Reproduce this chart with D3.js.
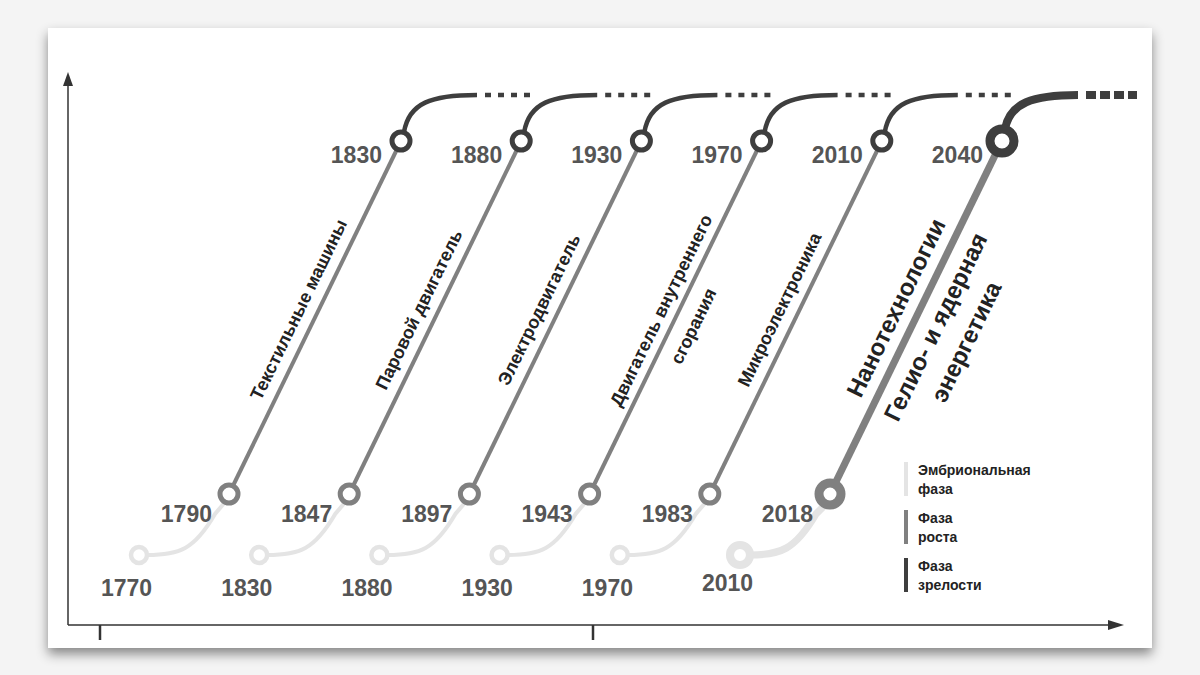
<!DOCTYPE html>
<html><head><meta charset="utf-8">
<script src="https://cdn.jsdelivr.net/npm/d3@7"></script>
<style>body{margin:0;background:#e9e9e9;font-family:"Liberation Sans",Arial,sans-serif}</style>
</head><body>
<svg id="c" width="1200" height="675"></svg>
<script>
const embYears=["1770","1830","1880","1930","1970","2010"];
const growthYears=["1790","1847","1897","1943","1983","2018"];
const matureYears=["1830","1880","1930","1970","2010","2040"];
const techLabels=[["Текстильные машины"],["Паровой двигатель"],["Электродвигатель"],["Двигатель внутреннего","сгорания"],["Микроэлектроника"],["Нанотехнологии","Гелио- и ядерная","энергетика"]];
const legendLabels=[["Эмбриональная","фаза"],["Фаза","роста"],["Фаза","зрелости"]];
const colors=["#e4e4e4","#808080","#3e3e3e"];

const svg=d3.select("#c");
const defs=svg.append("defs");
const f=defs.append("filter").attr("id","sh").attr("x","-5%").attr("y","-5%").attr("width","110%").attr("height","115%");
f.append("feDropShadow").attr("dx",0).attr("dy",6).attr("stdDeviation",6).attr("flood-color","#000").attr("flood-opacity",0.45);
svg.append("rect").attr("width",1200).attr("height",675).attr("fill","#f4f4f4");
svg.append("rect").attr("x",48).attr("y",28).attr("width",1104).attr("height",620).attr("fill","#fff").attr("filter","url(#sh)");

const ax=svg.append("g").attr("stroke","#333").attr("stroke-width",1.5);
ax.append("line").attr("x1",68).attr("y1",625).attr("x2",68).attr("y2",82);
ax.append("line").attr("x1",68).attr("y1",625).attr("x2",1112).attr("y2",625);
svg.append("path").attr("d","M68,72 L63,86 L73,86Z").attr("fill","#333");
svg.append("path").attr("d","M1124,625 L1108,620 L1108,630Z").attr("fill","#333");
[100,593].forEach(x=>ax.append("line").attr("x1",x).attr("x2",x).attr("y1",625).attr("y2",640).attr("stroke-width",2.5));

const x=d3.scaleLinear().domain([0,5]).range([139,740]);
const yE=555,yG=494,yM=141,yTop=95;
const gxOff=90, mxOff=262;
const offsets=[[-12],[-12],[-12],[-10,26],[-12],[-14,30,64]];

embYears.forEach((ey,i)=>{
  const last=i===5, w=last?1.8:1;
  const ex=x(i), gx=x(i)+gxOff, mx=x(i)+mxOff;
  const rE=last?10:8, rG=last?11:9, rM=last?12:9;
  const p=d3.path(); p.moveTo(ex+rE,yE); p.bezierCurveTo(ex+40,yE,ex+55,yE-5,gx-14,yG+20); p.lineTo(gx-3,yG+rG-2);
  svg.append("path").attr("d",p).attr("fill","none").attr("stroke",colors[0]).attr("stroke-width",4*w);
  svg.append("circle").attr("cx",ex).attr("cy",yE).attr("r",rE).attr("fill","#fff").attr("stroke",colors[0]).attr("stroke-width",4.5*w);
  svg.append("line").attr("x1",gx).attr("y1",yG).attr("x2",mx).attr("y2",yM).attr("stroke",colors[1]).attr("stroke-width",4*w);
  svg.append("circle").attr("cx",gx).attr("cy",yG).attr("r",rG).attr("fill","#fff").attr("stroke",colors[1]).attr("stroke-width",5*w);
  const q=d3.path(); q.moveTo(mx+3,yM-rM); q.bezierCurveTo(mx+8,yTop+8,mx+30,yTop,mx+76,yTop);
  svg.append("path").attr("d",q).attr("fill","none").attr("stroke",colors[2]).attr("stroke-width",4.5*w);
  svg.append("line").attr("x1",mx+84).attr("x2",mx+135).attr("y1",yTop).attr("y2",yTop).attr("stroke",colors[2]).attr("stroke-width",4.5*w).attr("stroke-dasharray",last?"10,4":"6,7");
  svg.append("circle").attr("cx",mx).attr("cy",yM).attr("r",rM).attr("fill","#fff").attr("stroke",colors[2]).attr("stroke-width",5*w);
  const t=(xx,yy,s,a)=>svg.append("text").attr("x",xx).attr("y",yy).attr("text-anchor",a).attr("font-size",23).attr("font-weight","bold").attr("fill","#555").text(s);
  t(ex-38,yE+41-(last?5:0),ey,"start");
  t(gx-17,yG+28,growthYears[i],"end");
  t(mx-19,yM+22,matureYears[i],"end");
  const ang=Math.atan2(yM-yG,mx-gx)*180/Math.PI;
  const cx0=(gx+mx)/2, cy0=(yG+yM)/2;
  const lines=techLabels[i], fs=last?24:18;
  lines.forEach((s,k)=>{
    svg.append("text").attr("transform",`translate(${cx0},${cy0}) rotate(${ang}) translate(0,${offsets[i][k]})`)
      .attr("text-anchor","middle").attr("font-size",fs).attr("font-weight","bold").attr("fill","#222").text(s);
  });
});

legendLabels.forEach((ll,i)=>{
  const y0=462+i*48;
  svg.append("line").attr("x1",906).attr("x2",906).attr("y1",y0).attr("y2",y0+34).attr("stroke",colors[i]).attr("stroke-width",4);
  ll.forEach((s,k)=>svg.append("text").attr("x",918).attr("y",y0+13+k*19).attr("font-size",14).attr("font-weight","bold").attr("fill","#222").text(s));
});
</script></body></html>
